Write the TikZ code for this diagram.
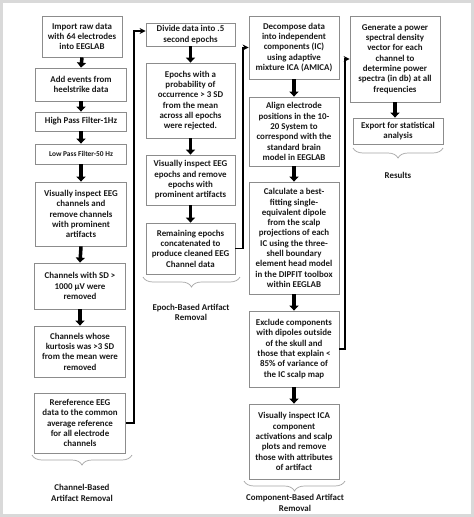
\documentclass[tikz,border=0pt]{standalone}
\usepackage{fontspec}
\setmainfont{Carlito}
\usetikzlibrary{arrows.meta,decorations.pathreplacing}
\begin{document}
\begin{tikzpicture}[x=1pt,y=-1pt,
  box/.style={draw=black!45,line width=0.8pt,fill=white,align=center,inner sep=0pt,
    font=\bfseries\fontsize{8.9}{10.3}\selectfont,text=black!90},
  lbl/.style={align=center,inner sep=0pt,font=\bfseries\fontsize{8.9}{10.3}\selectfont,text=black!90},
  down/.style={line width=3.5pt,-{Triangle[width=9pt,length=5pt]}},
  conn/.style={line width=1.8pt,-{Stealth[length=6pt,width=6pt]}},
  grp/.style={draw=black!35,line width=0.7pt,decorate,decoration={brace,mirror,amplitude=10pt}}]
\useasboundingbox (0,0) rectangle (474,517);
\fill[white] (0,0) rectangle (474,517);
\draw[black!15,line width=3pt] (1.5,1.5) rectangle (472.5,515.5);
% column 1
\node[box,minimum width=80,minimum height=41] (a1) at (82,36.5) {Import raw data\\with 64 electrodes\\into EEGLAB};
\node[box,minimum width=91,minimum height=33] (a2) at (81,84.5) {Add events from\\heelstrike data};
\node[box,minimum width=91,minimum height=19] (a3) at (81,121.5) {High Pass Filter-1Hz};
\node[box,minimum width=91,minimum height=20,font=\bfseries\fontsize{7.4}{8}\selectfont] (a4) at (81,154) {Low Pass Filter-50 Hz};
\node[box,minimum width=91,minimum height=64] (a5) at (81,214) {Visually inspect EEG\\channels and\\remove channels\\with prominent\\artifacts};
\node[box,minimum width=91,minimum height=46] (a6) at (80,286) {Channels with SD >\\1000 µV were\\removed};
\node[box,minimum width=91,minimum height=51] (a7) at (80,351.5) {Channels whose\\kurtosis was >3 SD\\from the mean were\\removed};
\node[box,minimum width=91,minimum height=60] (a8) at (80,423) {Rereference EEG\\data to the common\\average reference\\for all electrode\\channels};
% column 2
\node[box,minimum width=89,minimum height=23] (b1) at (190.5,34.5) {Divide data into .5\\second epochs};
\node[box,minimum width=89,minimum height=75] (b2) at (190.5,100.5) {Epochs with a\\probability of\\occurrence > 3 SD\\from the mean\\across all epochs\\were rejected.};
\node[box,minimum width=89,minimum height=50] (b3) at (190.5,180) {Visually inspect EEG\\epochs and remove\\epochs with\\prominent artifacts};
\node[box,minimum width=89,minimum height=51] (b4) at (190.5,248.5) {Remaining epochs\\concatenated to\\produce cleaned EEG\\Channel data};
% column 3
\node[box,minimum width=90,minimum height=63] (c1) at (294,47.5) {Decompose data\\into independent\\components (IC)\\using adaptive\\mixture ICA (AMICA)};
\node[box,minimum width=90,minimum height=69] (c2) at (294,131.5) {Align electrode\\positions in the 10-\\20 System to\\correspond with the\\standard brain\\model in EEGLAB};
\node[box,minimum width=90,minimum height=112] (c3) at (294,238) {Calculate a best-\\fitting single-\\equivalent dipole\\from the scalp\\projections of each\\IC using the three-\\shell boundary\\element head model\\in the DIPFIT toolbox\\within EEGLAB};
\node[box,minimum width=90,minimum height=76] (c4) at (294,349) {Exclude components\\with dipoles outside\\of the skull and\\those that explain <\\85\% of variance of\\the IC scalp map};
\node[box,minimum width=90,minimum height=75] (c5) at (294,441.5) {Visually inspect ICA\\component\\activations and scalp\\plots and remove\\those with attributes\\of artifact};
% column 4
\node[box,minimum width=90,minimum height=86] (d1) at (395,59) {Generate a power\\spectral density\\vector for each\\channel to\\determine power\\spectra (in db) at all\\frequencies};
\node[box,minimum width=90,minimum height=26] (d2) at (398,131) {Export for statistical\\analysis};
% down arrows
\foreach \u/\v in {a1/a2,a2/a3,a3/a4,a4/a5,a5/a6,a6/a7,b1/b2,b2/b3,b3/b4,c1/c2,c2/c3,c3/c4,c4/c5}
  \draw[down] (\u.south) -- (\v.north);
\draw[down] (d1.south) -- (d1.south |- d2.north);
% connectors between columns
\coordinate (j1) at (134,31);
\coordinate (j2) at (243,0);
\coordinate (j3) at (345,0);
\draw[conn] (a8.east) -| (j1) -- (j1 -| b1.west);
\draw[conn] (b4.east) -| (j2 |- c1.west) -- (c1.west);
\draw[conn] (c4.east) -| (j3 |- d1.west) -- (d1.west);
% braces and group labels
\coordinate (g1a) at (32,455); \coordinate (g1b) at (132,455);
\coordinate (g2a) at (143,277); \coordinate (g2b) at (240,277);
\coordinate (g3a) at (244,481); \coordinate (g3b) at (345,481);
\coordinate (g4a) at (353,148); \coordinate (g4b) at (443,148);
\draw[grp] (g1a) -- (g1b);
\draw[grp] (g2a) -- (g2b);
\draw[grp] (g3a) -- (g3b);
\draw[grp] (g4a) -- (g4b);
\node[lbl] (l1) at (82,493) {Channel-Based\\Artifact Removal};
\node[lbl] (l2) at (191,312.5) {Epoch-Based Artifact\\Removal};
\node[lbl] (l3) at (295,503) {Component-Based Artifact\\Removal};
\node[lbl] (l4) at (398,175) {Results};
\end{tikzpicture}
\end{document}
